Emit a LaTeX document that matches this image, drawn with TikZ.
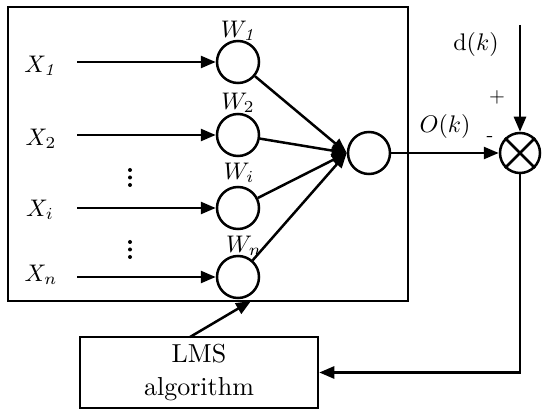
\documentclass[tikz,border=0pt]{standalone}
\usepackage{graphicx}
\usetikzlibrary{arrows.meta}
\begin{document}
\begin{tikzpicture}[x=1pt,y=-1pt,
  ln/.style={line width=2.5pt},
  arr/.style={ln,-{Triangle[length=15pt,width=12pt]}},
  neuron/.style={circle,draw,line width=2.5pt,minimum size=42pt,inner sep=0pt},
  lbl/.style={inner sep=0pt,scale=2.4,transform shape},
  dot/.style={fill=black},
  box/.style={draw,line width=2.5pt}]
\useasboundingbox (0,0) rectangle (550,417);
\draw[box] (8,7) rectangle (408,301);
% weight neurons
\node[neuron] (w1) at (238,62) {};
\node[neuron] (w2) at (238,135) {};
\node[neuron] (wi) at (238,208) {};
\node[neuron] (wn) at (238,277) {};
\node[neuron] (sum) at (369,153) {};
\node[neuron,minimum size=40pt] (cross) at (520,153) {};
\draw[ln] (cross.north east) -- (cross.south west) (cross.north west) -- (cross.south east);
% input labels
\node[lbl] (x1) at (41,66) {$X_{\mathit{1}}$};
\node[lbl] (x2) at (41,139) {$X_2$};
\node[lbl] (xi) at (40,210) {$X_i$};
\node[lbl] (xn) at (41,275) {$X_n$};
\coordinate (s1) at (77,62);
\coordinate (s2) at (77,135);
\coordinate (si) at (77,208);
\coordinate (sn) at (77,277);
\draw[arr] (s1) -- (w1);
\draw[arr] (s2) -- (w2);
\draw[arr] (si) -- (wi);
\draw[arr] (sn) -- (wn);
% dots
\fill[dot] (130,170) circle (2) (130,177.5) circle (2) (130,185) circle (2);
\fill[dot] (130,242) circle (2) (130,249.5) circle (2) (130,257) circle (2);
% weight labels
\node[lbl] (lw1) at (239,31) {$W_{\mathit{1}}$};
\node[lbl] (lw2) at (238,103) {$W_2$};
\node[lbl] (lwi) at (239,173) {$W_i$};
\node[lbl] (lwn) at (244,246) {$W_n$};
% to sum
\draw[arr] (w1) -- (sum.west);
\draw[arr] (w2) -- (sum.west);
\draw[arr] (wi) -- (sum.west);
\draw[arr] (wn) -- (sum.west);
% output
\draw[arr] (sum) -- (cross);
\node[lbl] (ok) at (445,127) {$O(k)$};
\node[lbl] (dk) at (476,45) {$\mathrm{d}(k)$};
\node[lbl,scale=0.85] (plus) at (497,97) {$+$};
\node[lbl,scale=0.85] (minus) at (490,139) {-};
\coordinate (dtop) at (520,25);
\draw[arr] (dtop) -- (cross);
% LMS
\node[box,minimum width=238pt,minimum height=71pt,inner sep=0pt] (lms) at (199,372.5)
  {\scalebox{2.6}{\begin{tabular}{@{}c@{}}LMS\\[0.6pt]algorithm\end{tabular}}};
\draw[arr] (cross) |- (lms.east);
\coordinate (lmsout) at (190,337);
\coordinate (lmsin) at (251,301);
\draw[arr] (lmsout) -- (lmsin);
\end{tikzpicture}
\end{document}
